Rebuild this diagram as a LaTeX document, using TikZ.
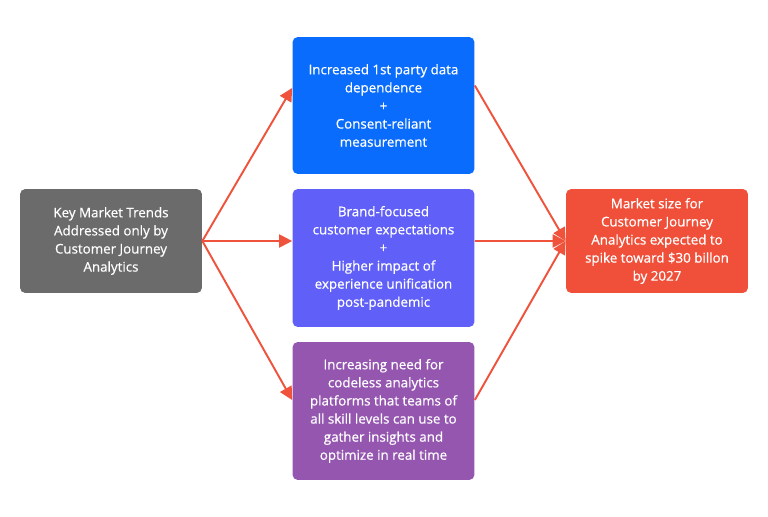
\documentclass[tikz,border=0pt]{standalone}
\usepackage{fontspec}
\setmainfont{Open Sans}
\newfontfamily\boxfont{Open Sans}[FakeBold=0.6]
\usetikzlibrary{arrows.meta}

\definecolor{trendgray}{HTML}{6B6B6B}
\definecolor{datablue}{HTML}{0A6CFD}
\definecolor{brandviolet}{HTML}{6060F8}
\definecolor{codepurple}{HTML}{9556B0}
\definecolor{marketred}{HTML}{F05039}
\definecolor{linkred}{HTML}{F0533C}

\begin{document}
\begin{tikzpicture}[x=0.02cm,y=-0.02cm,
  box/.style={rounded corners=3pt, text=white, align=center, minimum width=3.64cm,
    font=\boxfont\fontsize{7.6}{10.3}\selectfont},
  link/.style={draw=linkred, line width=1.1pt, -{Triangle[length=0.26cm,width=0.26cm]}}]
\useasboundingbox (0,0) rectangle (768,517);

\node[box, fill=trendgray, minimum height=2.08cm] (trends) at (111,241)
  {Key Market Trends\\Addressed only by\\Customer Journey\\Analytics};
\node[box, fill=datablue, minimum height=2.74cm] (data) at (383.5,105.5)
  {Increased 1st party data\\dependence\\+\\Consent-reliant\\measurement};
\node[box, fill=brandviolet, minimum height=2.76cm] (brand) at (383.5,258)
  {Brand-focused\\customer expectations\\+\\Higher impact of\\experience unification\\post-pandemic};
\node[box, fill=codepurple, minimum height=2.76cm] (codeless) at (383.5,411)
  {Increasing need for\\codeless analytics\\platforms that teams of\\all skill levels can use to\\gather insights and\\optimize in real time};
\node[box, fill=marketred, minimum height=2.08cm] (market) at (657,241)
  {Market size for\\Customer Journey\\Analytics expected to\\spike toward \$30 billon\\by 2027};

% left fan
\draw[link] (trends.east) -- ([yshift=0.35cm]data.west);
\draw[link] (trends.east) -- ([yshift=0.34cm]brand.west);
\draw[link] (trends.east) -- ([yshift=0.22cm]codeless.west);

% right fan
\draw[link] ([yshift=0.40cm]data.east) -- (market.west);
\draw[link] ([yshift=0.22cm]codeless.east) -- (market.west);
\draw[link] ([yshift=0.34cm]brand.east) -- (market.west);
\end{tikzpicture}
\end{document}
